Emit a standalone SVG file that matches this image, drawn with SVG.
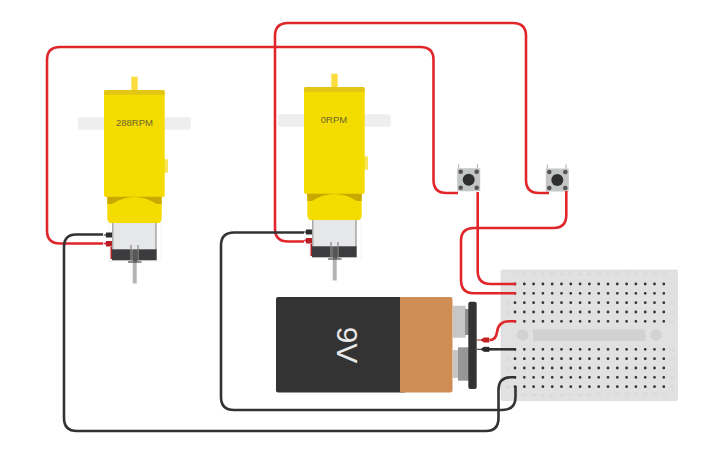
<svg xmlns="http://www.w3.org/2000/svg" width="725" height="453" viewBox="0 0 725 453">
<style>
.wr{fill:none;stroke:#e0262b;stroke-width:2.6}
.wk{fill:none;stroke:#333;stroke-width:2.6}
text{font-family:"Liberation Sans",Arial,sans-serif}
.rpm{font-size:9.500px;fill:#6b6630;text-anchor:middle}
.bl{font-size:5.500px;fill:#d3d3d3;text-anchor:middle}
.bl text{transform-box:fill-box;transform-origin:center;transform:rotate(-90deg)}
.holes{fill:none;stroke:#333;stroke-width:2.800;stroke-linecap:round;stroke-dasharray:0 9.300}
.dot{fill:#555}
.leg{stroke:#aaa;stroke-width:1;fill:none}
</style>
<defs>
<g id="motor">
<rect x="131.300" y="76.700" width="6.400" height="14" fill="#fbdd3f"/>
<rect x="78" y="117.300" width="112.700" height="12.400" rx="2" fill="#eeeeee"/>
<rect x="164" y="159.300" width="4" height="13.400" fill="#f8e35a"/>
<rect x="109" y="212" width="52" height="49" fill="#fff" stroke="#eee" stroke-width=".7"/>
<rect x="104" y="90" width="60.700" height="107" rx="2" fill="#f5dc00"/>
<path d="M104 92a2 2 0 0 1 2-2h56.700a2 2 0 0 1 2 2v2.700H104z" fill="#e3c515"/>
<path d="M107.300 196.700h54.400v21.600q0 5-5 5h-44.400q-5 0-5-5z" fill="#f5dc00"/>
<path d="M107.300 196.700h54.400v7.300l-5 0Q146 197 134.500 197T112 204h-4.700z" fill="#c9a800"/>
<rect x="112" y="223" width="44.700" height="27" fill="#e6e7e9"/>
<rect x="112" y="223" width="1.500" height="27" fill="#aaa"/>
<rect x="155.200" y="223" width="1.500" height="27" fill="#aaa"/>
<rect x="112" y="249.300" width="44.700" height="11" fill="#3c3c3e"/>
<rect x="132.700" y="262" width="4" height="21.500" fill="#b5b5b5"/>
<rect x="130" y="245" width="9" height="16" fill="#e6e7e9" fill-opacity=".4"/>
<path d="M131 245v16M138 245v16M133 250h4v11h-4z" fill="#555" stroke="#555" stroke-width=".8"/>
<path d="M128 262h13.500" stroke="#222" stroke-width="1"/>
<rect x="110.500" y="247" width="1.500" height="12" fill="#b02025"/>
<rect x="106" y="232.500" width="6" height="5" fill="#2d2d2d"/>
<path d="M103 235l3-1.500v3z" fill="#777"/>
<rect x="106" y="241" width="6" height="5.500" fill="#b51f24"/>
<path d="M103 243.500l3-1.500v3z" fill="#d35"/>
</g>
<g id="btn">
<path class="leg" d="M-10-11.500v-4M8.700-11.500v-4"/>
<rect x="-11.500" y="-11.500" width="23" height="23" rx="1" fill="#c4c6c6"/>
<circle r="6" fill="#2f2f2f"/>
<circle class="dot" cx="-8" cy="-8" r="2.300"/><circle class="dot" cx="8" cy="-8" r="2.300"/>
<circle class="dot" cx="-8" cy="8" r="2.300"/><circle class="dot" cx="8" cy="8" r="2.300"/>
</g>
</defs>

<g id="motor1"><use href="#motor"/><text class="rpm" x="134.500" y="126">288RPM</text></g>
<g id="motor2"><use href="#motor" x="200" y="-3"/><text class="rpm" x="334" y="123">0RPM</text></g>
<g id="button1"><use href="#btn" x="468.700" y="179.800"/></g>
<g id="button2"><use href="#btn" x="557.300" y="180"/></g>

<g id="breadboard">
<rect x="501" y="270" width="176.500" height="130.500" rx="1.500" fill="#e1e1e1" stroke="#d6d6d6" stroke-width=".6"/>
<rect x="533" y="329.500" width="112.500" height="11.500" fill="#d2d2d2"/>
<circle cx="522.500" cy="335" r="5.800" fill="#d2d2d2"/>
<circle cx="656" cy="335" r="5.800" fill="#d2d2d2"/>
<path class="holes" d="M515 284H665M515 293.300H665M515 302.700H665M515 312H665M515 321.300H665M515 349.300H665M515 358.700H665M515 368H665M515 377.300H665M515 386.700H665"/>
<g class="bl">
<text x="515" y="276">1</text><text x="524.300" y="276">2</text><text x="533.600" y="276">3</text><text x="542.900" y="276">4</text><text x="552.200" y="276">5</text><text x="561.500" y="276">6</text><text x="570.800" y="276">7</text><text x="580.100" y="276">8</text><text x="589.400" y="276">9</text><text x="598.700" y="276">10</text><text x="608" y="276">11</text><text x="617.300" y="276">12</text><text x="626.600" y="276">13</text><text x="635.900" y="276">14</text><text x="645.200" y="276">15</text><text x="654.500" y="276">16</text><text x="663.800" y="276">17</text>
<text x="515" y="397">1</text><text x="524.300" y="397">2</text><text x="533.600" y="397">3</text><text x="542.900" y="397">4</text><text x="552.200" y="397">5</text><text x="561.500" y="397">6</text><text x="570.800" y="397">7</text><text x="580.100" y="397">8</text><text x="589.400" y="397">9</text><text x="598.700" y="397">10</text><text x="608" y="397">11</text><text x="617.300" y="397">12</text><text x="626.600" y="397">13</text><text x="635.900" y="397">14</text><text x="645.200" y="397">15</text><text x="654.500" y="397">16</text><text x="663.800" y="397">17</text>
<text x="508" y="286">J</text><text x="508" y="295.300">I</text><text x="508" y="304.700">H</text><text x="508" y="314">G</text><text x="508" y="323.300">F</text><text x="508" y="351.300">E</text><text x="508" y="360.700">D</text><text x="508" y="370">C</text><text x="508" y="379.300">B</text><text x="508" y="388.700">A</text>
<text x="672" y="286">J</text><text x="672" y="295.300">I</text><text x="672" y="304.700">H</text><text x="672" y="314">G</text><text x="672" y="323.300">F</text><text x="672" y="351.300">E</text><text x="672" y="360.700">D</text><text x="672" y="370">C</text><text x="672" y="379.300">B</text><text x="672" y="388.700">A</text>
</g>
</g>

<g id="battery">
<rect x="452.700" y="305.700" width="13" height="32" fill="#c6c6c6"/>
<rect x="465" y="309" width="4" height="26" fill="#8f8f8f"/>
<rect x="452.700" y="350" width="6" height="28" fill="#c6c6c6"/>
<rect x="458" y="347.300" width="11" height="33.400" fill="#979797"/>
<rect x="276" y="297" width="130" height="95.500" rx="2" fill="#333"/>
<path d="M400 297h50.500a2 2 0 0 1 2 2v91.500a2 2 0 0 1-2 2H400z" fill="#d08d55"/>
<rect x="468.300" y="301.700" width="8.400" height="87.300" rx="2" fill="#333"/>
<text x="347" y="345" font-size="30" fill="#e8e8e8" text-anchor="middle" dominant-baseline="central" transform="rotate(90 347 345)">9V</text>
</g>

<g id="connectors">
<path class="wr" d="M103 243.500H60Q47 243.500 47 230.500V60Q47 47 60 47H420.500Q433.500 47 433.500 60V180Q433.500 193 446.500 193H458"/>
<path class="wr" d="M304 241.500H288Q275 241.500 275 228.500V36Q275 23 288 23H513Q526 23 526 36V180Q526 193 539 193H549"/>
<path class="wr" d="M477.700 192V271Q477.700 284 490.700 284H516"/>
<path class="wr" d="M566.300 191V215Q566.300 228 553.300 228H474Q461 228 461 241V280Q461 293.300 474 293.300H516"/>
<path class="wr" d="M490 340Q496 340 497 332Q498.500 321.300 509 321.300H516"/>
<path class="wk" d="M103 234.500H76Q64 234.500 64 247V418Q64 431 77 431H486Q498.500 431 498.500 418V390Q498.500 377.300 511 377.300H516"/>
<path class="wk" d="M304 232.500H234Q221 232.500 221 245.500V397Q221 410 234 410H502Q515.500 410 515.500 397V386"/>
<path class="wk" d="M488 349.300H516"/>
<path d="M477 340h4l3-2h5v4h-5l-3-2" fill="#c0201f" stroke="#c0201f"/>
<path d="M477 349.300h4l3-2h5v4h-5l-3-2" fill="#2a2a2a" stroke="#2a2a2a"/>
</g>
</svg>
